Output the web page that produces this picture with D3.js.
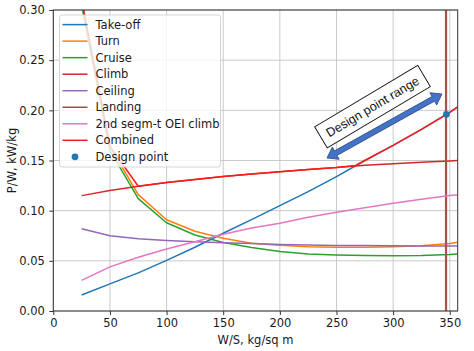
<!DOCTYPE html>
<html><head><meta charset="utf-8">
<script src="https://cdn.jsdelivr.net/npm/d3@7/dist/d3.min.js"></script>
<style>
html,body{margin:0;padding:0;background:#fff;}
svg{display:block;}
text{font-family:"DejaVu Sans",sans-serif;}
</style></head>
<body>
<svg id="chart" width="474" height="351"></svg>
<script>
// ---- data ----
const wsValues   = [25,50,75,100,125,150,175,200,225,250,275,300,325,350,357];
const takeoffPW  = [0.016,0.027,0.038,0.0505,0.0635,0.0775,0.091,0.105,0.119,0.134,0.150,0.165,0.181,0.198,0.2035];
const turnPW     = [0.31,0.164,0.116,0.091,0.0795,0.0725,0.0676,0.0655,0.064,0.0636,0.0636,0.064,0.065,0.0672,0.0685];
const cruisePW   = [0.305,0.160,0.112,0.088,0.0757,0.0682,0.0632,0.0592,0.0568,0.0558,0.0553,0.0551,0.0553,0.0562,0.0568];
const climbPW    = [0.115,0.120,0.1243,0.128,0.131,0.134,0.1365,0.1388,0.141,0.143,0.1452,0.1468,0.1482,0.1495,0.1499];
const ceilingPW  = [0.082,0.075,0.072,0.0703,0.069,0.068,0.0672,0.0664,0.0658,0.0654,0.0652,0.065,0.0649,0.0648,0.0648];
const oeiPW      = [0.0305,0.044,0.0535,0.0618,0.069,0.0765,0.0828,0.0875,0.0935,0.0985,0.103,0.1073,0.1113,0.115,0.1158];
const combinedWS = [25,50,75,100,125,150,175,200,225,250,267,275,300,325,350,357];
const combinedPW = [0.31,0.164,0.1243,0.128,0.131,0.134,0.1365,0.1388,0.141,0.143,0.145,0.150,0.165,0.181,0.198,0.2035];
const landingWS  = 346.7;
const designPoint = [347, 0.196];
const xTicks = [0,50,100,150,200,250,300,350];
const yTicks = [0,0.05,0.10,0.15,0.20,0.25,0.30];
const legendLabels = ["Take-off","Turn","Cruise","Climb","Ceiling","Landing","2nd segm-t OEI climb","Combined","Design point"];
const annotationText = "Design point range";

// ---- layout ----
const L = 53.3, R = 457.7, T = 10, B = 311;
const FS = "11.5px";
const svg = d3.select("#chart");
const x = d3.scaleLinear().domain([0,357]).range([L,R]);
const y = d3.scaleLinear().domain([0,0.30]).range([B,T]);
const txt = "#1a1a1a";

svg.append("defs").append("clipPath").attr("id","clip")
  .append("rect").attr("x",L).attr("y",T).attr("width",R-L).attr("height",B-T);

// grid
const g = svg.append("g");
g.selectAll(".gx").data(xTicks).enter().append("line")
  .attr("x1",d=>x(d)).attr("x2",d=>x(d)).attr("y1",T).attr("y2",B)
  .attr("stroke","#c4c4c4").attr("stroke-width",0.9);
g.selectAll(".gy").data(yTicks).enter().append("line")
  .attr("x1",L).attr("x2",R).attr("y1",d=>y(d)).attr("y2",d=>y(d))
  .attr("stroke","#c4c4c4").attr("stroke-width",0.9);

// series
const series = [
  {name:"Take-off", xs:wsValues, ys:takeoffPW, color:"#1f77b4"},
  {name:"Turn", xs:wsValues, ys:turnPW, color:"#ff7f0e"},
  {name:"Cruise", xs:wsValues, ys:cruisePW, color:"#2ca02c"},
  {name:"Climb", xs:wsValues, ys:climbPW, color:"#d62728"},
  {name:"Ceiling", xs:wsValues, ys:ceilingPW, color:"#9467bd"},
  {name:"Landing", color:"#8c564b"},
  {name:"2nd segm-t OEI climb", xs:wsValues, ys:oeiPW, color:"#e377c2"},
  {name:"Combined", xs:combinedWS, ys:combinedPW, color:"#ff1a1a"}
];
const line = d3.line().x(d=>x(d[0])).y(d=>y(d[1]));
const plot = svg.append("g").attr("clip-path","url(#clip)");
series.forEach(s=>{
  if (s.name==="Landing") {
    plot.append("line").attr("x1",x(landingWS)).attr("x2",x(landingWS))
      .attr("y1",y(0)).attr("y2",y(0.30)).attr("stroke",s.color).attr("stroke-width",2.2);
    plot.append("line").attr("x1",x(landingWS)).attr("x2",x(landingWS))
      .attr("y1",y(0)).attr("y2",y(0.30)).attr("stroke","#d9534f").attr("stroke-width",0.6);
    return;
  }
  const pts = s.xs.map((v,i)=>[v,s.ys[i]]);
  plot.append("path").datum(pts).attr("d",line).attr("fill","none")
    .attr("stroke",s.color).attr("stroke-width",1.5).attr("stroke-linejoin","round");
});
plot.append("circle").attr("cx",x(designPoint[0])).attr("cy",y(designPoint[1]))
  .attr("r",3.4).attr("fill","#1f77b4");

// axes
const xAxis = svg.append("g").attr("transform",`translate(0,${B})`)
  .call(d3.axisBottom(x).tickValues(xTicks).tickSize(4).tickPadding(3.5).tickSizeOuter(0));
const yAxis = svg.append("g").attr("transform",`translate(${L},0)`)
  .call(d3.axisLeft(y).tickValues(yTicks).tickFormat(d3.format(".2f")).tickSize(4).tickPadding(4.5).tickSizeOuter(0));
[xAxis,yAxis].forEach(a=>{
  a.select(".domain").remove();
  a.selectAll("line").attr("stroke","#333");
  a.selectAll("text").attr("fill",txt).style("font-family","DejaVu Sans").style("font-size",FS);
});
svg.append("rect").attr("x",L).attr("y",T).attr("width",R-L).attr("height",B-T)
  .attr("fill","none").attr("stroke","#333").attr("stroke-width",1);

svg.append("text").attr("x",(L+R)/2).attr("y",343.5).attr("text-anchor","middle")
  .attr("fill",txt).style("font-size",FS).text("W/S, kg/sq m");
svg.append("text").attr("transform",`translate(16,${(T+B)/2}) rotate(-90)`).attr("text-anchor","middle")
  .attr("fill",txt).style("font-size",FS).text("P/W, kW/kg");

// legend
const lg = svg.append("g");
lg.append("rect").attr("x",59.5).attr("y",15).attr("width",161).attr("height",152).attr("rx",2.5)
  .attr("fill","#fff").attr("fill-opacity",0.8).attr("stroke","#d0d0d0").attr("stroke-width",0.9);
const legendColors = series.map(s=>s.color).concat(["#1f77b4"]);
legendLabels.forEach((lab,i)=>{
  const cy = 24.6 + i*16.53;
  if (i<8) {
    lg.append("line").attr("x1",62.5).attr("x2",87.5).attr("y1",cy).attr("y2",cy)
      .attr("stroke",legendColors[i]).attr("stroke-width",1.5);
  } else {
    lg.append("circle").attr("cx",75).attr("cy",cy).attr("r",3.4).attr("fill",legendColors[i]);
  }
  lg.append("text").attr("x",95.5).attr("y",cy).attr("dy","0.36em").attr("fill",txt)
    .style("font-size",FS).text(lab);
});

// annotation: double-headed arrow
const a0 = [327,158], a1 = [442,94];
const ang = Math.atan2(a1[1]-a0[1], a1[0]-a0[0]) * 180/Math.PI;
const len = Math.hypot(a1[0]-a0[0], a1[1]-a0[1]);
const hl = 10, hw = 7, sw = 2.6;
const arrowPts = [[0,0],[hl,-hw],[hl,-sw],[len-hl,-sw],[len-hl,-hw],[len,0],[len-hl,hw],[len-hl,sw],[hl,sw],[hl,hw]];
svg.append("path").attr("transform",`translate(${a0[0]},${a0[1]}) rotate(${ang})`)
  .attr("d",d3.line()(arrowPts)+"Z").attr("fill","#4472c4").attr("stroke","#2f528f").attr("stroke-width",0.8);

// annotation: text box
const ab = svg.append("g").attr("transform",`translate(372.5,106.7) rotate(-30.8)`);
ab.append("rect").attr("x",-60).attr("y",-12.3).attr("width",120).attr("height",24.6)
  .attr("fill","#fff").attr("stroke","#111").attr("stroke-width",0.9);
ab.append("text").attr("x",0).attr("y",0).attr("dy","0.35em").attr("text-anchor","middle")
  .attr("fill","#111").style("font-family","Liberation Sans, Arial, sans-serif").style("font-size","12.6px")
  .text(annotationText);
</script>
</body></html>
